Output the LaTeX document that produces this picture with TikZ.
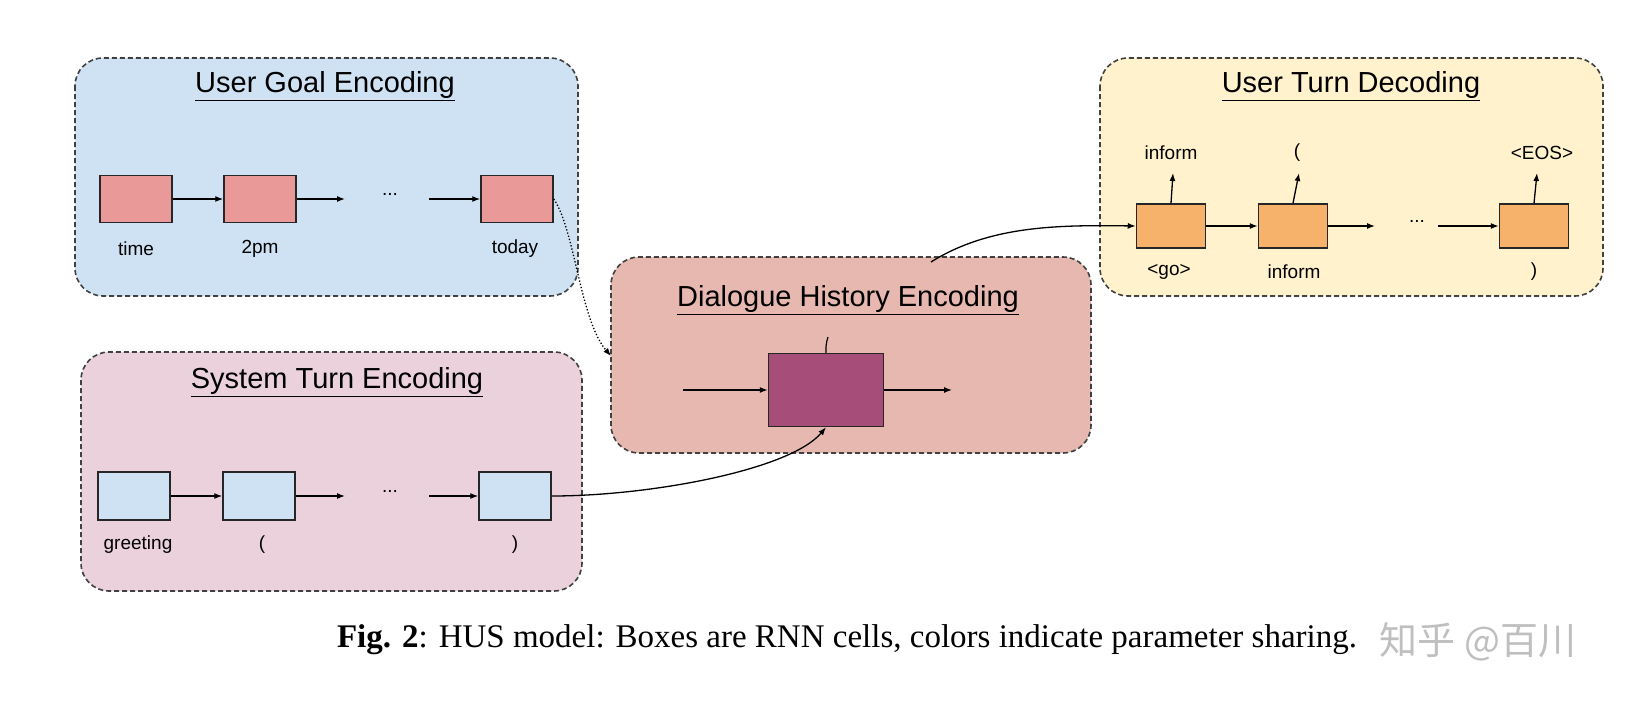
\documentclass[tikz,border=0pt]{standalone}
\usepackage{fontspec}
\setmainfont{Liberation Serif}
\newfontfamily\sansf{Liberation Sans}
\newfontfamily\cjk{Noto Sans CJK SC}
\usetikzlibrary{arrows.meta}
\definecolor{ugBlue}{HTML}{CFE2F3}
\definecolor{stPink}{HTML}{EAD1DC}
\definecolor{dhRed}{HTML}{E6B8AF}
\definecolor{utYel}{HTML}{FFF2CC}
\definecolor{cRed}{HTML}{EA9999}
\definecolor{cOr}{HTML}{F6B26B}
\definecolor{cPur}{HTML}{A64D79}
\begin{document}
\begin{tikzpicture}[x=1pt,y=-1pt,
  grp/.style={draw=black!75,dashed,line width=1.6pt,rounded corners=28pt,dash pattern=on 5pt off 3pt},
  ttl/.style={font=\sansf\fontsize{29}{32}\selectfont,inner sep=0pt},
  lbl/.style={font=\sansf\fontsize{19}{22}\selectfont,inner sep=0pt},
  cell/.style={draw=black!85,line width=1.5pt,inner sep=0pt},
  arr/.style={-{Latex[length=8pt,width=6pt]},line width=1.3pt},
  ]
\useasboundingbox (0,0) rectangle (1640,712);
% groups
\draw[grp,fill=ugBlue] (75,58) rectangle (578,296);
\draw[grp,fill=stPink] (81,352) rectangle (582,591);
\draw[grp,fill=dhRed] (611,257) rectangle (1091,453);
\draw[grp,fill=utYel] (1100,58) rectangle (1603,296);
% titles
\node[ttl] (t1) at (325,86) {\underline{User Goal Encoding}};
\node[ttl] (t2) at (337,382) {\underline{System Turn Encoding}};
\node[ttl] (t3) at (848,300) {\underline{Dialogue History Encoding}};
\node[ttl] (t4) at (1351,86) {\underline{User Turn Decoding}};
% user goal cells
\foreach \n/\x in {a1/136,a2/260,a4/517}
  \node[cell,fill=cRed,minimum width=72pt,minimum height=47pt] (\n) at (\x,199) {};
\coordinate (a2e) at (345,199);
\node[lbl] (ad) at (390,194) {...};
\coordinate (a4s) at (429,199);
\draw[arr] (a1) -- (a2); \draw[arr] (a2) -- (a2e); \draw[arr] (a4s) -- (a4);
\node[lbl] (la1) at (136,249) {time};
\node[lbl] (la2) at (260,249) {2pm};
\node[lbl] (la4) at (515,249) {today};
% system turn cells
\foreach \n/\x in {b1/134,b2/259,b4/515}
  \node[cell,fill=ugBlue,minimum width=72pt,minimum height=48pt] (\n) at (\x,496) {};
\coordinate (b2e) at (345,496);
\node[lbl] (bd) at (390,491) {...};
\coordinate (b4s) at (429,496);
\draw[arr] (b1) -- (b2); \draw[arr] (b2) -- (b2e); \draw[arr] (b4s) -- (b4);
\node[lbl] (lb1) at (138,545) {greeting};
\node[lbl] (lb2) at (262,545) {(};
\node[lbl] (lb4) at (515,545) {)};
% dialogue cell
\node[cell,fill=cPur,minimum width=115pt,minimum height=73pt] (p) at (826,390) {};
\coordinate (pin) at (683,390);
\coordinate (pout) at (952,390);
\coordinate (ptick) at (828,337);
\draw[arr] (pin) -- (p); \draw[arr] (p) -- (pout);
\draw[line width=1.2pt] (p.north) to[bend left=10] (ptick);
% decoder cells
\foreach \n/\x in {c1/1171,c2/1293,c4/1534}
  \node[cell,fill=cOr,minimum width=69pt,minimum height=44pt] (\n) at (\x,226) {};
\coordinate (c2e) at (1375,226);
\node[lbl] (cd) at (1417,221) {...};
\coordinate (c4s) at (1438,226);
\draw[arr] (c1) -- (c2); \draw[arr] (c2) -- (c2e); \draw[arr] (c4s) -- (c4);
\foreach \n/\x/\t in {u1/1171/inform,u2/1297/(,u4/1542/<EOS>}
  \node[lbl] (\n) at (\x,153) {\t};
\foreach \c/\x in {c1/1173,c2/1299,c4/1537}{
  \coordinate (\c t) at (\x,173);
  \draw[arr] (\c.north) -- (\c t);}
\node[lbl] (d1) at (1169,272) {<go>};
\node[lbl] (d2) at (1294,272) {inform};
\node[lbl] (d4) at (1534,272) {)};
% connectors
\draw[arr,dotted] (a4.east) .. controls (575,230) and (580,320) .. (611,356);
\draw[arr] (b4.east) .. controls (650,496) and (790,470) .. (p.south);
\coordinate (dtop) at (931,262);
\draw[arr] (dtop) .. controls (990,225) and (1060,225) .. (c1.west);
% caption
\node[inner sep=0pt,font=\fontsize{33}{36}\selectfont] (cap) at (847,640) {\textbf{Fig. 2}: HUS model: Boxes are RNN cells, colors indicate parameter sharing.};
\node[inner sep=0pt,text=black!25,font=\cjk\fontsize{38}{40}\selectfont] (wm) at (1478,642) {知乎 @百川};
\end{tikzpicture}
\end{document}
